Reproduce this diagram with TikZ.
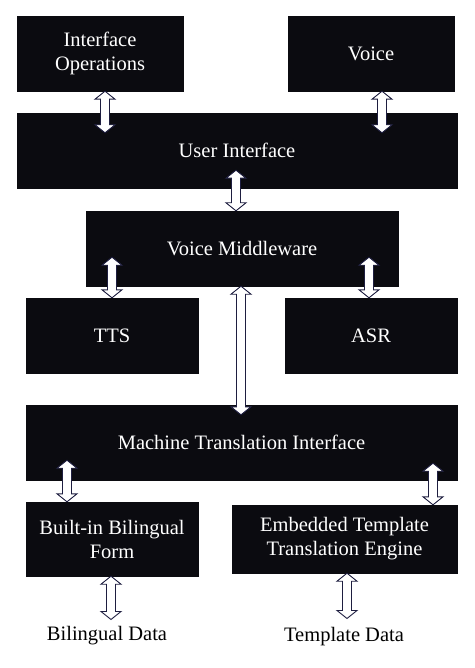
\documentclass[tikz,border=0pt]{standalone}
\usepackage{fontspec}
\setmainfont{Liberation Serif}
\usetikzlibrary{calc}
\definecolor{boxfill}{HTML}{0B0B10}
\definecolor{arrowline}{HTML}{1E1E40}
\tikzset{
  blk/.style={draw=boxfill, fill=boxfill, text=white, align=center, inner sep=0pt,
    font=\fontsize{20.5}{24}\selectfont},
  plain/.style={text=black, inner sep=0pt, font=\fontsize{20.5}{24}\selectfont},
  barrowstyle/.style={draw=arrowline, fill=white, line width=0.9pt, line join=miter}
}
\newcommand{\barrow}[3]{%
  \draw[barrowstyle] let \p1=#2, \p2=#3 in
    (#1pt,\y1) -- (#1pt+10pt,\y1-8pt) -- (#1pt+4.5pt,\y1-8pt) --
    (#1pt+4.5pt,\y2+8pt) -- (#1pt+10pt,\y2+8pt) -- (#1pt,\y2) --
    (#1pt-10pt,\y2+8pt) -- (#1pt-4.5pt,\y2+8pt) --
    (#1pt-4.5pt,\y1-8pt) -- (#1pt-10pt,\y1-8pt) -- cycle;}
\begin{document}
\begin{tikzpicture}[x=1pt,y=-1pt]
\useasboundingbox (0,0) rectangle (474,668);
% boxes
\node[blk, minimum width=166, minimum height=75] (io) at (100,53.5) {Interface\\Operations};
\node[blk, minimum width=166, minimum height=75] (voice) at (371,53.5) {Voice};
\node[blk, minimum width=440, minimum height=75] (ui) at (237,150.5) {User Interface};
\node[blk, minimum width=312, minimum height=75] (vm) at (242,248.5) {Voice Middleware};
\node[blk, minimum width=172, minimum height=75] (tts) at (112,335.5) {TTS};
\node[blk, minimum width=172, minimum height=75] (asr) at (371,335.5) {ASR};
\node[blk, minimum width=431, minimum height=75] (mti) at (241.5,442.5) {Machine Translation Interface};
\node[blk, minimum width=172, minimum height=74] (bib) at (112,539) {Built-in Bilingual\\Form};
\node[blk, minimum width=225, minimum height=68] (ete) at (344.5,539) {Embedded Template\\Translation Engine};
\node[plain] (bd) at (107,636) {Bilingual Data};
\node[plain] (td) at (344,637) {Template Data};
% arrows
\barrow{105}{(io.south)}{([yshift=-20pt]ui.north)}
\barrow{382}{(voice.south)}{([yshift=-20pt]ui.north)}
\barrow{236}{([yshift=18pt]ui.south)}{(vm.north)}
\barrow{112}{([yshift=29pt]vm.south)}{(tts.north)}
\barrow{369}{([yshift=29pt]vm.south)}{(asr.north)}
\barrow{241}{(vm.south)}{([yshift=-10pt]mti.north)}
\barrow{67}{([yshift=20pt]mti.south)}{(bib.north)}
\barrow{433}{([yshift=17pt]mti.south)}{(ete.north)}
\barrow{111}{(bib.south)}{([yshift=7pt]bd.north)}
\barrow{347}{(ete.south)}{([yshift=9pt]td.north)}
\end{tikzpicture}
\end{document}
